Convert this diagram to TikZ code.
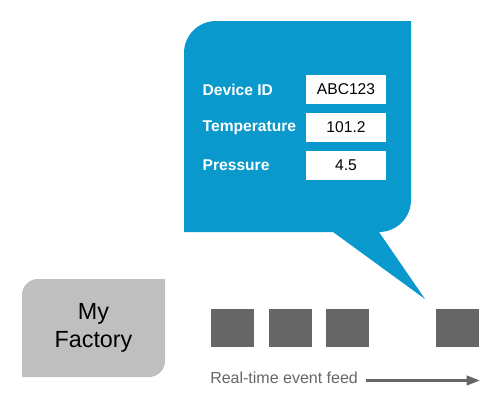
\documentclass[tikz,border=0pt]{standalone}
\usepackage{fontspec}
\setmainfont{Liberation Sans}
\usetikzlibrary{arrows.meta}
\definecolor{bubbleblue}{HTML}{0A99CC}
\definecolor{factorygray}{HTML}{BFBFBF}
\definecolor{eventgray}{HTML}{666666}
\tikzset{
  field/.style={anchor=west, text=white, font=\fontsize{11.7}{13}\selectfont\bfseries},
  valuebox/.style={fill=white, minimum width=60pt, minimum height=21.75pt, inner sep=0pt,
    font=\fontsize{11.7}{13}\selectfont},
  event/.style={fill=eventgray, minimum width=32.25pt, minimum height=28.5pt, inner sep=0pt}
}
\begin{document}
\begin{tikzpicture}[x=0.75pt, y=0.75pt]
      \useasboundingbox (0, 0) rectangle (504, 412);
      % speech bubble
      \fill[bubbleblue] (184, 180) -- (184, 359) arc[start angle=180, end angle=90, radius=24pt]
        -- (411, 391) -- (411, 212) arc[start angle=0, end angle=-90, radius=24pt]
        -- (379, 180) -- (425, 113) -- (333, 180) -- cycle;
      \node[field] (devlabel) at (198, 322.5) {Device ID};
      \node[field] (templabel) at (198, 284.5) {Temperature};
      \node[field] (preslabel) at (198, 246.5) {Pressure};
      \node[valuebox] (devval) at (346, 322.5) {ABC123};
      \node[valuebox] (tempval) at (346, 284.5) {101.2};
      \node[valuebox] (presval) at (346, 246.5) {4.5};
      % factory
      \fill[factorygray] (22, 35) -- (22, 117) arc[start angle=180, end angle=90, radius=12pt]
        -- (165, 133) -- (165, 51) arc[start angle=0, end angle=-90, radius=12pt] -- cycle;
      \node[align=center, font=\fontsize{17.5}{21}\selectfont] (factory) at (93.5, 84) {My\\Factory};
      % event feed
      \node[event] (ev1) at (232, 84) {};
      \node[event] (ev2) at (290, 84) {};
      \node[event] (ev3) at (347.5, 84) {};
      \node[event] (ev4) at (457.5, 84) {};
      \node[anchor=west, inner sep=0pt, text=eventgray, font=\fontsize{12}{14}\selectfont] (feed) at (210, 34) {Real-time event feed};
      \coordinate (feedstart) at (366, 31.5);
      \coordinate (feedend) at (480, 31.5);
      \draw[eventgray, line width=2.2pt, -{Triangle[length=10pt, width=7pt]}] (feedstart) -- (feedend);
    \end{tikzpicture}
\end{document}
